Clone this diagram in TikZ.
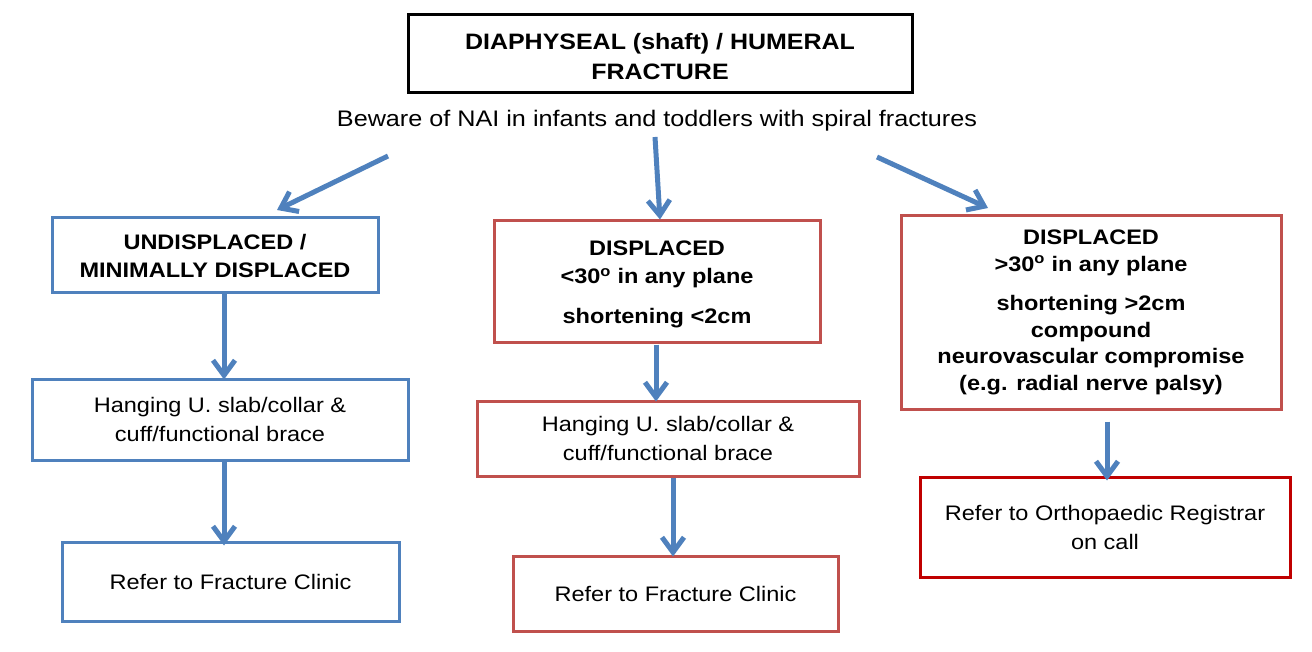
\documentclass[tikz,border=0pt]{standalone}
\usepackage{fontspec}
\setmainfont[FakeStretch=1.12]{Liberation Sans}
\usetikzlibrary{arrows.meta,calc}
\definecolor{flowblue}{RGB}{79,129,189}
\definecolor{flowred}{RGB}{192,80,77}
\definecolor{alertred}{RGB}{192,0,0}
\tikzset{
  box/.style={draw, line width=3pt, fill=white, align=center, inner sep=0pt, font=\fontsize{21}{29}\selectfont},
  bluebox/.style={box, draw=flowblue},
  redbox/.style={box, draw=flowred},
  flow/.style={draw=flowblue, line width=5pt, -{Straight Barb[length=15pt,width=22pt,line width=5pt]}}
}
\begin{document}
\begin{tikzpicture}[x=1pt,y=-1pt]
    \useasboundingbox (0,0) rectangle (1312,652);

    \node[box, draw=black, minimum width=504, minimum height=78, font=\bfseries\fontsize{22.3}{30}\selectfont] (title) at (660,54) {\strut DIAPHYSEAL (shaft) / HUMERAL\\FRACTURE};
    \node[font=\fontsize{22.5}{25}\selectfont] (nai) at (657,121) {Beware of NAI in infants and toddlers with spiral fractures};

    % left column
    \node[bluebox, minimum width=326, minimum height=75, font=\bfseries\fontsize{21}{28}\selectfont] (undisp) at (215,255.5) {UNDISPLACED /\\MINIMALLY DISPLACED};
    \node[bluebox, minimum width=376, minimum height=81] (slabL) at (220,419.5) {Hanging U. slab/collar \&\\cuff/functional brace};
    \node[bluebox, minimum width=337, minimum height=79] (clinicL) at (230.5,581.5) {Refer to Fracture Clinic};

    % middle column
    \node[redbox, minimum width=326, minimum height=122, font=\bfseries\fontsize{21}{28}\selectfont] (dispA) at (657,282) {\strut DISPLACED\\<30\textsuperscript{o} in any plane\\[12pt]shortening <2cm};
    \node[redbox, minimum width=382, minimum height=75] (slabM) at (668,438.5) {Hanging U. slab/collar \&\\cuff/functional brace};
    \node[redbox, minimum width=325, minimum height=75] (clinicM) at (675.5,593.5) {Refer to Fracture Clinic};

    % right column
    \node[redbox, minimum width=380, minimum height=193, font=\bfseries\fontsize{21}{26.5}\selectfont] (dispB) at (1091,312.5) {DISPLACED\\>30\textsuperscript{o} in any plane\\[13pt]shortening >2cm\\compound\\neurovascular compromise\\(e.g. radial nerve palsy)};
    \node[box, draw=alertred, minimum width=370, minimum height=100] (registrar) at (1105,527) {Refer to Orthopaedic Registrar\\on call};

    \coordinate (fromL) at (388,156);
    \coordinate (toL) at (277,210);
    \coordinate (fromM) at (655,137);
    \coordinate (fromR) at (877,157);
    \coordinate (toR) at (988,208);

    \draw[flow] (fromL) -- (toL);
    \draw[flow] (fromM) -- ([xshift=3]dispA.north); %ends on the box top
    \draw[flow] (fromR) -- (toR);

    \draw[flow] ([xshift=9]undisp.south) -- ([xshift=4,yshift=-2]slabL.north);
    \draw[flow] ([xshift=4]slabL.south) -- ([xshift=-6.5,yshift=-5]clinicL.north);
    \draw[flow] ([xshift=-1]dispA.south) -- ([xshift=-12,yshift=-2]slabM.north);
    \draw[flow] ([xshift=5]slabM.south) -- ([xshift=-2.5,yshift=-2]clinicM.north);
    \draw[flow] ([xshift=16,yshift=-11]dispB.south) -- ([xshift=2,yshift=-5]registrar.north);
\end{tikzpicture}
\end{document}
